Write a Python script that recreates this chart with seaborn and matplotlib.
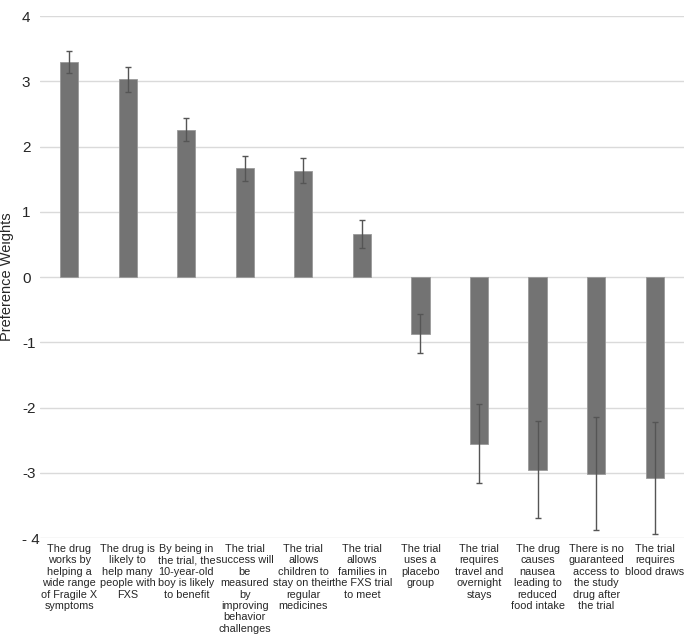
import matplotlib
matplotlib.use("Agg")
import matplotlib.pyplot as plt
import seaborn as sns
import numpy as np
import pandas as pd

categories = [
    "The drug\nworks by\nhelping a\nwide range\nof Fragile X\nsymptoms",
    "The drug is\nlikely to\nhelp many\npeople with\nFXS",
    "By being in\nthe trial, the\n10-year-old\nboy is likely\nto benefit",
    "The trial\nsuccess will\nbe\nmeasured\nby\nimproving\nbehavior\nchallenges",
    "The trial\nallows\nchildren to\nstay on their\nregular\nmedicines",
    "The trial\nallows\nfamilies in\nthe FXS trial\nto meet",
    "The trial\nuses a\nplacebo\ngroup",
    "The trial\nrequires\ntravel and\novernight\nstays",
    "The drug\ncauses\nnausea\nleading to\nreduced\nfood intake",
    "There is no\nguaranteed\naccess to\nthe study\ndrug after\nthe trial",
    "The trial\nrequires\nblood draws",
]
weights = [3.29, 3.03, 2.26, 1.67, 1.63, 0.66, -0.87, -2.55, -2.95, -3.01, -3.08]
errors = [0.17, 0.19, 0.18, 0.19, 0.19, 0.21, 0.30, 0.61, 0.74, 0.86, 0.86]
ytick_values = [4, 3, 2, 1, 0, -1, -2, -3, -4]
ytick_labels = ["4", "3", "2", "1", "0", "-1", "-2", "-3", "- 4"]

sns.set_style("white")
plt.rcParams['font.family'] = ['Liberation Sans', 'DejaVu Sans']

df = pd.DataFrame({"cat": categories, "w": weights, "e": errors})

fig = plt.figure(figsize=(6.85, 6.4), dpi=100)
ax = fig.add_axes([0.0584, 0.159, 0.94, 0.816])

for v in ytick_values:
    ax.axhline(v, color="#dadada", lw=1.0, zorder=0)

sns.barplot(data=df, x="cat", y="w", color="#737373", width=0.31,
            edgecolor="#9a9a9a", linewidth=0.6, saturation=1, ax=ax, zorder=2)
ax.errorbar(np.arange(len(categories)), df["w"], yerr=df["e"], fmt="none",
            ecolor="#555555", elinewidth=1.0, capsize=2.5, capthick=1.0, zorder=3)

ax.set_ylim(-4, 4)
ax.set_xlim(-0.5, len(categories) - 0.5)
ax.set_yticks(ytick_values)
ax.set_yticklabels(ytick_labels, fontsize=11, ha="left")
ax.set_xticks(np.arange(len(categories)))
ax.set_xticklabels(categories, fontsize=7.8, linespacing=1.18, va="top")
ax.tick_params(axis="x", length=0, pad=4)
ax.tick_params(axis="y", length=0, pad=13)
ax.set_xlabel("")
ax.set_ylabel("Preference Weights", fontsize=10.5)
ax.yaxis.set_label_coords(-0.041, 0.5)
for s in ax.spines.values():
    s.set_visible(False)

fig.savefig("out.png", dpi=100)
